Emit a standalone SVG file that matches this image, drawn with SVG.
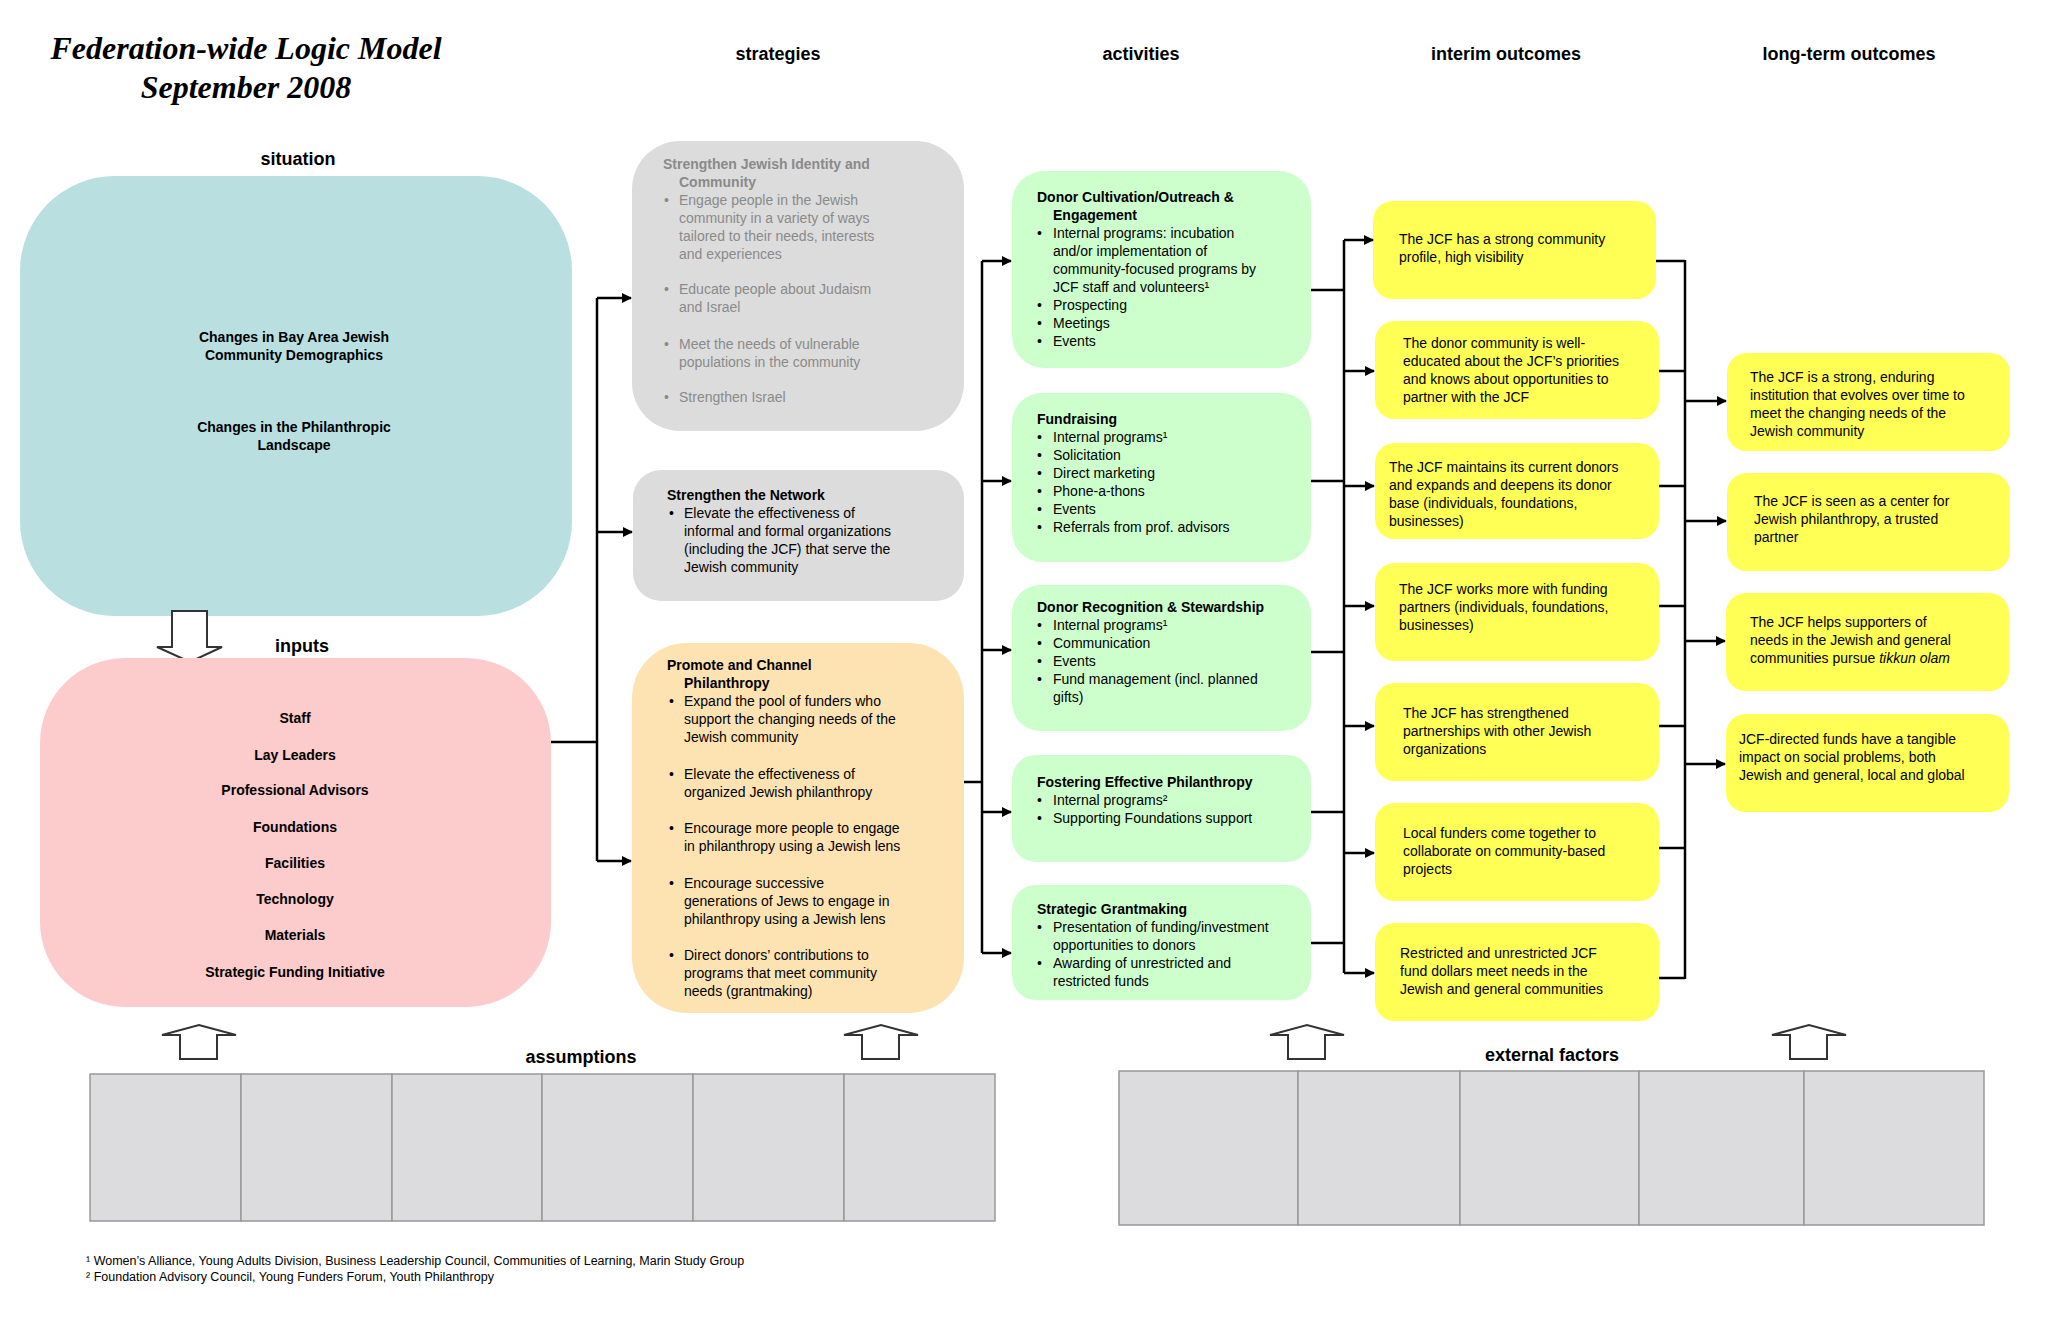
<svg xmlns="http://www.w3.org/2000/svg" width="2048" height="1325" viewBox="0 0 2048 1325">
<defs>
<marker id="ah" viewBox="0 0 10 10" refX="9" refY="5" markerWidth="4" markerHeight="4" orient="auto" markerUnits="strokeWidth"><path d="M0,0 L10,5 L0,10 z" fill="#000"/></marker>
<style>
text{font-family:"Liberation Sans",Arial,sans-serif;font-size:14px;fill:#000}
.h{font-size:18px;font-weight:bold}
.b{font-weight:bold}
.g{fill:#8a8a8a}
.c{text-anchor:middle}
.ln{fill:none;stroke:#000;stroke-width:2.5}
.cell{fill:#dcdbde;stroke:#999;stroke-width:1.5}
.up{fill:#fff;stroke:#333;stroke-width:2}
</style>
</defs>
<rect width="2048" height="1325" fill="#fff"/>
<g id="title">
<text x="246" y="59" class="c" style="font-family:'Liberation Serif',serif;font-size:32px;font-weight:bold;font-style:italic">Federation-wide Logic Model</text>
<text x="246" y="98" class="c" style="font-family:'Liberation Serif',serif;font-size:32px;font-weight:bold;font-style:italic">September 2008</text>
</g>
<g id="headers">
<text x="778" y="60" class="h c">strategies</text>
<text x="1141" y="60" class="h c">activities</text>
<text x="1506" y="60" class="h c">interim outcomes</text>
<text x="1849" y="60" class="h c">long-term outcomes</text>
<text x="298" y="165" class="h c">situation</text>
<text x="302" y="652" class="h c">inputs</text>
<text x="581" y="1063" class="h c">assumptions</text>
<text x="1552" y="1061" class="h c">external factors</text>
</g>
<g id="situation">
<rect x="20" y="176" width="552" height="440" rx="95" fill="#b9dfe1"/>
<text class="b c" x="294"><tspan x="294" y="342">Changes in Bay Area Jewish</tspan><tspan x="294" y="360">Community Demographics</tspan><tspan x="294" y="432">Changes in the Philanthropic</tspan><tspan x="294" y="450">Landscape</tspan></text>
</g>
<g id="down-arrow"><path class="up" d="M172,611 H207 V647 H222 L190,662 L157,647 H172 Z"/></g>
<g id="inputs">
<rect x="40" y="658" width="511" height="349" rx="85" fill="#fccbcc"/>
<text class="b c"><tspan x="295" y="723">Staff</tspan><tspan x="295" y="760">Lay Leaders</tspan><tspan x="295" y="795">Professional Advisors</tspan><tspan x="295" y="832">Foundations</tspan><tspan x="295" y="868">Facilities</tspan><tspan x="295" y="904">Technology</tspan><tspan x="295" y="940">Materials</tspan><tspan x="295" y="977">Strategic Funding Initiative</tspan></text>
</g>
<g id="strategy-identity">
<rect x="632" y="141" width="332" height="290" rx="48" fill="#dcdcdd"/>
<text class="b g"><tspan x="663" y="169">Strengthen Jewish Identity and</tspan><tspan x="679" y="187">Community</tspan></text>
<text class="g"><tspan x="664" y="205">•</tspan><tspan x="679" y="205">Engage people in the Jewish</tspan><tspan x="679" y="223">community in a variety of ways</tspan><tspan x="679" y="241">tailored to their needs, interests</tspan><tspan x="679" y="259">and experiences</tspan><tspan x="664" y="294">•</tspan><tspan x="679" y="294">Educate people about Judaism</tspan><tspan x="679" y="312">and Israel</tspan><tspan x="664" y="349">•</tspan><tspan x="679" y="349">Meet the needs of vulnerable</tspan><tspan x="679" y="367">populations in the community</tspan><tspan x="664" y="402">•</tspan><tspan x="679" y="402">Strengthen Israel</tspan></text>
</g>
<g id="strategy-network">
<rect x="633" y="470" width="331" height="131" rx="28" fill="#dcdcdd"/>
<text class="b" x="667" y="500">Strengthen the Network</text>
<text><tspan x="669" y="518">•</tspan><tspan x="684" y="518">Elevate the effectiveness of</tspan><tspan x="684" y="536">informal and formal organizations</tspan><tspan x="684" y="554">(including the JCF) that serve the</tspan><tspan x="684" y="572">Jewish community</tspan></text>
</g>
<g id="strategy-philanthropy">
<rect x="632" y="643" width="332" height="370" rx="55" fill="#fde3b2"/>
<text class="b"><tspan x="667" y="670">Promote and Channel</tspan><tspan x="684" y="688">Philanthropy</tspan></text>
<text><tspan x="669" y="706">•</tspan><tspan x="684" y="706">Expand the pool of funders who</tspan><tspan x="684" y="724">support the changing needs of the</tspan><tspan x="684" y="742">Jewish community</tspan><tspan x="669" y="779">•</tspan><tspan x="684" y="779">Elevate the effectiveness of</tspan><tspan x="684" y="797">organized Jewish philanthropy</tspan><tspan x="669" y="833">•</tspan><tspan x="684" y="833">Encourage more people to engage</tspan><tspan x="684" y="851">in philanthropy using a Jewish lens</tspan><tspan x="669" y="888">•</tspan><tspan x="684" y="888">Encourage successive</tspan><tspan x="684" y="906">generations of Jews to engage in</tspan><tspan x="684" y="924">philanthropy using a Jewish lens</tspan><tspan x="669" y="960">•</tspan><tspan x="684" y="960">Direct donors’ contributions to</tspan><tspan x="684" y="978">programs that meet community</tspan><tspan x="684" y="996">needs (grantmaking)</tspan></text>
</g>
<g id="act-cultivation">
<rect x="1012" y="171" width="299" height="197" rx="32" fill="#ccffcc"/>
<text class="b"><tspan x="1037" y="202">Donor Cultivation/Outreach &amp;</tspan><tspan x="1053" y="220">Engagement</tspan></text>
<text><tspan x="1037" y="238">•</tspan><tspan x="1053" y="238">Internal programs: incubation</tspan><tspan x="1053" y="256">and/or implementation of</tspan><tspan x="1053" y="274">community-focused programs by</tspan><tspan x="1053" y="292">JCF staff and volunteers¹</tspan><tspan x="1037" y="310">•</tspan><tspan x="1053" y="310">Prospecting</tspan><tspan x="1037" y="328">•</tspan><tspan x="1053" y="328">Meetings</tspan><tspan x="1037" y="346">•</tspan><tspan x="1053" y="346">Events</tspan></text>
</g>
<g id="act-fundraising">
<rect x="1012" y="393" width="299" height="169" rx="30" fill="#ccffcc"/>
<text class="b" x="1037" y="424">Fundraising</text>
<text><tspan x="1037" y="442">•</tspan><tspan x="1053" y="442">Internal programs¹</tspan><tspan x="1037" y="460">•</tspan><tspan x="1053" y="460">Solicitation</tspan><tspan x="1037" y="478">•</tspan><tspan x="1053" y="478">Direct marketing</tspan><tspan x="1037" y="496">•</tspan><tspan x="1053" y="496">Phone-a-thons</tspan><tspan x="1037" y="514">•</tspan><tspan x="1053" y="514">Events</tspan><tspan x="1037" y="532">•</tspan><tspan x="1053" y="532">Referrals from prof. advisors</tspan></text>
</g>
<g id="act-recognition">
<rect x="1012" y="585" width="299" height="146" rx="28" fill="#ccffcc"/>
<text class="b" x="1037" y="612">Donor Recognition &amp; Stewardship</text>
<text><tspan x="1037" y="630">•</tspan><tspan x="1053" y="630">Internal programs¹</tspan><tspan x="1037" y="648">•</tspan><tspan x="1053" y="648">Communication</tspan><tspan x="1037" y="666">•</tspan><tspan x="1053" y="666">Events</tspan><tspan x="1037" y="684">•</tspan><tspan x="1053" y="684">Fund management (incl. planned</tspan><tspan x="1053" y="702">gifts)</tspan></text>
</g>
<g id="act-fostering">
<rect x="1012" y="755" width="299" height="107" rx="24" fill="#ccffcc"/>
<text class="b" x="1037" y="787">Fostering Effective Philanthropy</text>
<text><tspan x="1037" y="805">•</tspan><tspan x="1053" y="805">Internal programs²</tspan><tspan x="1037" y="823">•</tspan><tspan x="1053" y="823">Supporting Foundations support</tspan></text>
</g>
<g id="act-grantmaking">
<rect x="1012" y="885" width="299" height="115" rx="24" fill="#ccffcc"/>
<text class="b" x="1037" y="914">Strategic Grantmaking</text>
<text><tspan x="1037" y="932">•</tspan><tspan x="1053" y="932">Presentation of funding/investment</tspan><tspan x="1053" y="950">opportunities to donors</tspan><tspan x="1037" y="968">•</tspan><tspan x="1053" y="968">Awarding of unrestricted and</tspan><tspan x="1053" y="986">restricted funds</tspan></text>
</g>
<g id="int-1"><rect x="1373" y="201" width="283" height="98" rx="20" fill="#ffff55"/><text><tspan x="1399" y="244">The JCF has a strong community</tspan><tspan x="1399" y="262">profile, high visibility</tspan></text></g>
<g id="int-2"><rect x="1375" y="321" width="284" height="98" rx="20" fill="#ffff55"/><text><tspan x="1403" y="348">The donor community is well-</tspan><tspan x="1403" y="366">educated about the JCF’s priorities</tspan><tspan x="1403" y="384">and knows about opportunities to</tspan><tspan x="1403" y="402">partner with the JCF</tspan></text></g>
<g id="int-3"><rect x="1375" y="443" width="284" height="96" rx="20" fill="#ffff55"/><text><tspan x="1389" y="472">The JCF maintains its current donors</tspan><tspan x="1389" y="490">and expands and deepens its donor</tspan><tspan x="1389" y="508">base (individuals, foundations,</tspan><tspan x="1389" y="526">businesses)</tspan></text></g>
<g id="int-4"><rect x="1375" y="563" width="284" height="98" rx="20" fill="#ffff55"/><text><tspan x="1399" y="594">The JCF works more with funding</tspan><tspan x="1399" y="612">partners (individuals, foundations,</tspan><tspan x="1399" y="630">businesses)</tspan></text></g>
<g id="int-5"><rect x="1375" y="683" width="284" height="98" rx="20" fill="#ffff55"/><text><tspan x="1403" y="718">The JCF has strengthened</tspan><tspan x="1403" y="736">partnerships with other Jewish</tspan><tspan x="1403" y="754">organizations</tspan></text></g>
<g id="int-6"><rect x="1375" y="803" width="284" height="98" rx="20" fill="#ffff55"/><text><tspan x="1403" y="838">Local funders come together to</tspan><tspan x="1403" y="856">collaborate on community-based</tspan><tspan x="1403" y="874">projects</tspan></text></g>
<g id="int-7"><rect x="1375" y="923" width="284" height="98" rx="20" fill="#ffff55"/><text><tspan x="1400" y="958">Restricted and unrestricted JCF</tspan><tspan x="1400" y="976">fund dollars meet needs in the</tspan><tspan x="1400" y="994">Jewish and general communities</tspan></text></g>
<g id="lt-1"><rect x="1727" y="353" width="283" height="98" rx="20" fill="#ffff55"/><text><tspan x="1750" y="382">The JCF is a strong, enduring</tspan><tspan x="1750" y="400">institution that evolves over time to</tspan><tspan x="1750" y="418">meet the changing needs of the</tspan><tspan x="1750" y="436">Jewish community</tspan></text></g>
<g id="lt-2"><rect x="1727" y="473" width="283" height="98" rx="20" fill="#ffff55"/><text><tspan x="1754" y="506">The JCF is seen as a center for</tspan><tspan x="1754" y="524">Jewish philanthropy, a trusted</tspan><tspan x="1754" y="542">partner</tspan></text></g>
<g id="lt-3"><rect x="1726" y="593" width="283" height="98" rx="20" fill="#ffff55"/><text><tspan x="1750" y="627">The JCF helps supporters of</tspan><tspan x="1750" y="645">needs in the Jewish and general</tspan><tspan x="1750" y="663">communities pursue <tspan font-style="italic">tikkun olam</tspan></tspan></text></g>
<g id="lt-4"><rect x="1726" y="714" width="283" height="98" rx="20" fill="#ffff55"/><text><tspan x="1739" y="744">JCF-directed funds have a tangible</tspan><tspan x="1739" y="762">impact on social problems, both</tspan><tspan x="1739" y="780">Jewish and general, local and global</tspan></text></g>
<g id="connectors">
<path class="ln" d="M551,742 H597 M597,298 V861"/>
<path class="ln" marker-end="url(#ah)" d="M597,298 H631"/>
<path class="ln" marker-end="url(#ah)" d="M597,532 H632"/>
<path class="ln" marker-end="url(#ah)" d="M597,861 H631"/>
<path class="ln" d="M964,782 H982 M982,261 V953"/>
<path class="ln" marker-end="url(#ah)" d="M982,261 H1011"/>
<path class="ln" marker-end="url(#ah)" d="M982,481 H1011"/>
<path class="ln" marker-end="url(#ah)" d="M982,650 H1011"/>
<path class="ln" marker-end="url(#ah)" d="M982,812 H1011"/>
<path class="ln" marker-end="url(#ah)" d="M982,953 H1011"/>
<path class="ln" d="M1311,290 H1344 M1311,481 H1344 M1311,652 H1344 M1311,812 H1344 M1311,943 H1344 M1344,240 V973"/>
<path class="ln" marker-end="url(#ah)" d="M1344,240 H1373"/>
<path class="ln" marker-end="url(#ah)" d="M1344,371 H1374"/>
<path class="ln" marker-end="url(#ah)" d="M1344,486 H1374"/>
<path class="ln" marker-end="url(#ah)" d="M1344,606 H1374"/>
<path class="ln" marker-end="url(#ah)" d="M1344,726 H1374"/>
<path class="ln" marker-end="url(#ah)" d="M1344,853 H1374"/>
<path class="ln" marker-end="url(#ah)" d="M1344,973 H1374"/>
<path class="ln" d="M1656,261 H1685 M1659,371 H1685 M1659,486 H1685 M1659,606 H1685 M1659,726 H1685 M1659,848 H1685 M1659,978 H1685 M1685,260 V979"/>
<path class="ln" marker-end="url(#ah)" d="M1685,401 H1726"/>
<path class="ln" marker-end="url(#ah)" d="M1685,521 H1726"/>
<path class="ln" marker-end="url(#ah)" d="M1685,641 H1725"/>
<path class="ln" marker-end="url(#ah)" d="M1685,764 H1725"/>
</g>
<g id="up-arrows">
<path class="up" d="M180,1059 V1035 H162 L199,1025 L236,1035 H217 V1059 Z"/>
<path class="up" d="M862,1059 V1035 H844 L881,1025 L918,1035 H899 V1059 Z"/>
<path class="up" d="M1288,1059 V1035 H1270 L1307,1025 L1344,1035 H1325 V1059 Z"/>
<path class="up" d="M1790,1059 V1035 H1772 L1809,1025 L1846,1035 H1827 V1059 Z"/>
</g>
<g id="assumptions">
<rect class="cell" x="90" y="1074" width="151" height="147"/><rect class="cell" x="241" y="1074" width="151" height="147"/><rect class="cell" x="392" y="1074" width="150" height="147"/><rect class="cell" x="542" y="1074" width="151" height="147"/><rect class="cell" x="693" y="1074" width="151" height="147"/><rect class="cell" x="844" y="1074" width="151" height="147"/>
</g>
<g id="external-factors">
<rect class="cell" x="1119" y="1071" width="179" height="154"/><rect class="cell" x="1298" y="1071" width="162" height="154"/><rect class="cell" x="1460" y="1071" width="179" height="154"/><rect class="cell" x="1639" y="1071" width="165" height="154"/><rect class="cell" x="1804" y="1071" width="180" height="154"/>
</g>
<g id="footnotes">
<text x="86" y="1265" style="font-size:12.5px">¹ Women’s Alliance, Young Adults Division, Business Leadership Council, Communities of Learning, Marin Study Group</text>
<text x="86" y="1281" style="font-size:12.5px">² Foundation Advisory Council, Young Funders Forum, Youth Philanthropy</text>
</g>
</svg>
